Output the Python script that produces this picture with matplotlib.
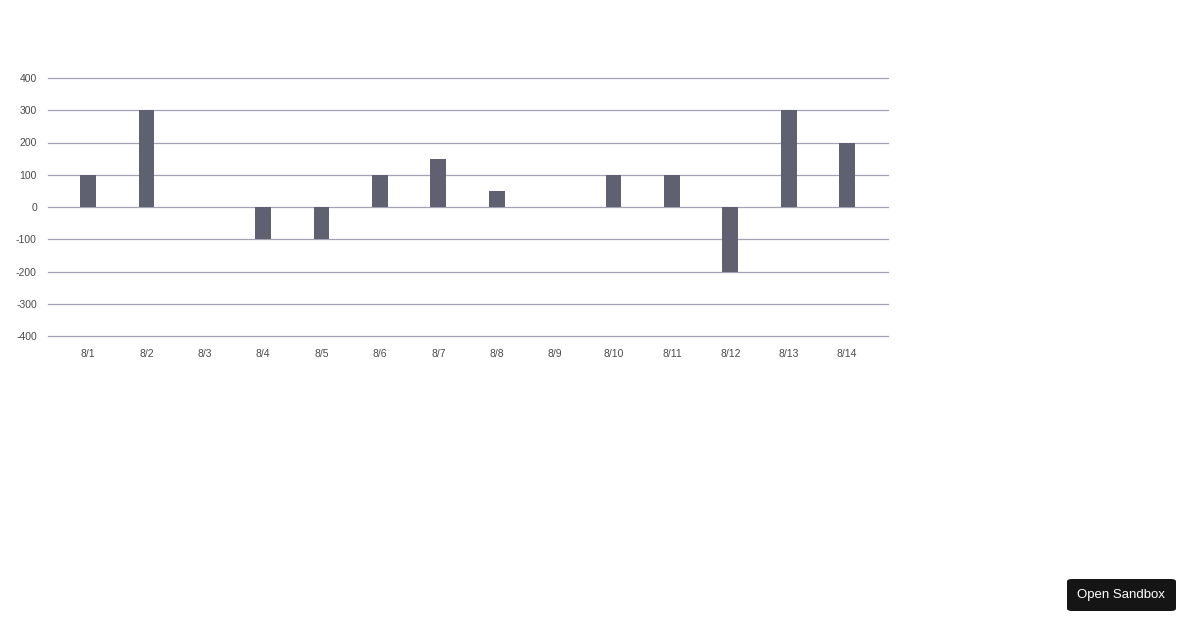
import matplotlib.pyplot as plt
from matplotlib.patches import FancyBboxPatch

plt.rcParams['font.family'] = ['Liberation Sans', 'DejaVu Sans']

days = ['8/1', '8/2', '8/3', '8/4', '8/5', '8/6', '8/7',
        '8/8', '8/9', '8/10', '8/11', '8/12', '8/13', '8/14']
values = [100, 300, 0, -100, -100, 100, 150, 50, 0, 100, 100, -200, 300, 200]
y_ticks = [-400, -300, -200, -100, 0, 100, 200, 300, 400]

bar_color = '#5f6170'
grid_color = '#a3a3b3'
text_color = '#4a4a4a'

fig = plt.figure(figsize=(12, 6.3), dpi=100)
ax = fig.add_axes([48 / 1200, 1 - 336 / 630, 840 / 1200, 258 / 630])

x = range(len(days))
ax.bar(x, values, width=0.27, color=bar_color, zorder=3)

ax.set_ylim(-400, 400)
ax.set_xlim(-0.685, 13.7)
ax.set_yticks(y_ticks)
ax.set_yticklabels([str(v) for v in y_ticks])
ax.set_xticks(list(x))
ax.set_xticklabels(days)
ax.grid(axis='y', color=grid_color, linewidth=0.9, zorder=1)
for gl in ax.get_ygridlines():
    gl.set_clip_on(False)
ax.tick_params(length=0, labelsize=7.5, labelcolor=text_color)
ax.tick_params(axis='y', pad=8)
ax.tick_params(axis='x', pad=9.5)
for s in ax.spines.values():
    s.set_visible(False)

# sandbox button in the corner
btn = FancyBboxPatch((1067 / 1200, 1 - 611 / 630), 109 / 1200, 32 / 630,
                     boxstyle='round,pad=0,rounding_size=0.004',
                     transform=fig.transFigure, facecolor='#151515',
                     edgecolor='none')
fig.patches.append(btn)
fig.text(1121 / 1200, 1 - 595 / 630, 'Open Sandbox', color='white',
         fontsize=9.5, ha='center', va='center')

fig.savefig('out.png')
